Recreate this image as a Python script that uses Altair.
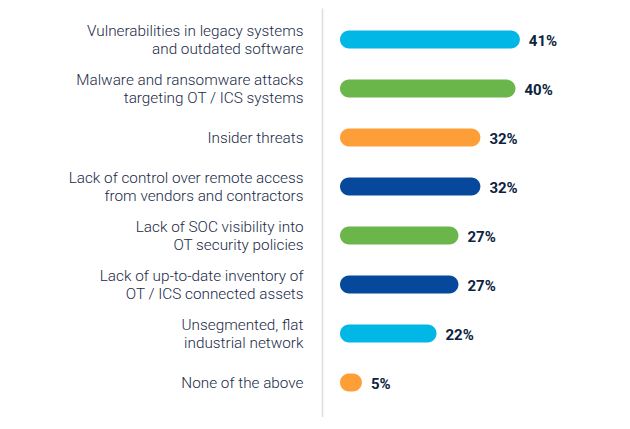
import altair as alt
import pandas as pd

categories = [
    "Vulnerabilities in legacy systems|and outdated software",
    "Malware and ransomware attacks|targeting OT / ICS systems",
    "Insider threats",
    "Lack of control over remote access|from vendors and contractors",
    "Lack of SOC visibility into|OT security policies",
    "Lack of up-to-date inventory of|OT / ICS connected assets",
    "Unsegmented, flat|industrial network",
    "None of the above",
]
values = [41, 40, 32, 32, 27, 27, 22, 5]
colors = ["#00b7e6", "#6ab64a", "#fd9f36", "#05489c", "#6ab64a", "#05489c", "#00b7e6", "#fd9f36"]

df = pd.DataFrame({
    "cat": categories,
    "value": values,
    "color": colors,
    "label": [f"{v}%" for v in values],
    "zero": [0] * len(values),
})

y = alt.Y(
    "cat:N",
    sort=categories,
    scale=alt.Scale(paddingInner=0.633, paddingOuter=0.49, align=0.47),
    axis=alt.Axis(
        title=None,
        labelExpr="split(datum.label, '|')",
        labelFont="Roboto",
        labelFontWeight=300,
        labelFontSize=15.3,
        labelColor="#1b2a47",
        labelLineHeight=18,
        labelPadding=19,
        labelLimit=400,
        labelOffset=alt.condition("indexof(datum.value, '|') >= 0", alt.value(-9), alt.value(0)),
        ticks=False,
        domainColor="#dddddd",
        domainWidth=1.5,
        minExtent=314,
        maxExtent=314,
    ),
)

xscale = alt.Scale(domain=[-4.1, 62], nice=False, zero=False)

bars = alt.Chart(df).mark_bar(cornerRadius=9).encode(
    y=y,
    x=alt.X("value:Q", scale=xscale, axis=None),
    x2="zero:Q",
    color=alt.Color("color:N", scale=None),
)

text = alt.Chart(df).mark_text(
    align="left", baseline="middle", dx=9, dy=1,
    font="Roboto", fontWeight="bold", fontSize=15, color="#0c2340",
).encode(
    y=alt.Y("cat:N", sort=categories),
    x=alt.X("value:Q", scale=xscale),
    text="label:N",
)

chart = alt.layer(bars, text).properties(
    width=290, height=409, padding=0
).configure_view(stroke=None)

chart.save("out.html", embed_options={"renderer": "svg", "actions": False})
